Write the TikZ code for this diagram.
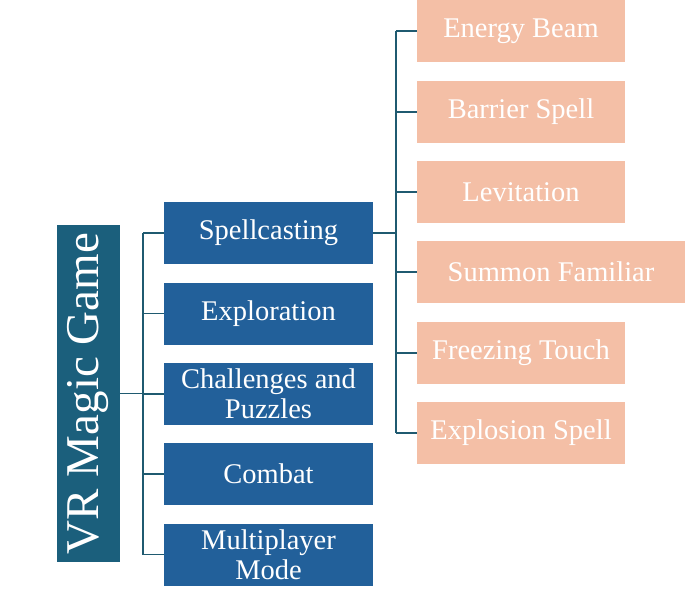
\documentclass[tikz,border=0pt]{standalone}
\usepackage{fontspec}
\setmainfont{Liberation Serif}
\definecolor{rootc}{HTML}{1B5F7C}
\definecolor{lone}{HTML}{22609A}
\definecolor{ltwo}{HTML}{F4BFA6}
\definecolor{linec}{HTML}{1F5A70}
\begin{document}
\begin{tikzpicture}[x=1pt,y=-1pt,
  rootbox/.style={fill=rootc,text=white,minimum width=337pt,minimum height=63pt,rotate=90,font=\fontsize{47}{50}\selectfont,inner sep=0pt},
  onebox/.style={fill=lone,text=white,minimum width=209pt,minimum height=62pt,font=\fontsize{28.5}{30}\selectfont,align=center,inner sep=0pt},
  twobox/.style={fill=ltwo,text=white,minimum width=208pt,minimum height=62pt,font=\fontsize{28.5}{30}\selectfont,align=center,inner sep=0pt},
  conn/.style={draw=linec,line width=1.5pt}]
\useasboundingbox (0,0) rectangle (685,595);
\node[rootbox] (root) at (88.5,393.5) {VR Magic Game};
\node[onebox] (s) at (268.5,233) {Spellcasting};
\node[onebox] (e) at (268.5,313.5) {Exploration};
\node[onebox] (c) at (268.5,394) {Challenges and\\Puzzles};
\node[onebox] (k) at (268.5,474) {Combat};
\node[onebox] (m) at (268.5,554.5) {Multiplayer\\Mode};
\node[twobox] (a1) at (521,31) {Energy Beam};
\node[twobox] (a2) at (521,112) {Barrier Spell};
\node[twobox] (a3) at (521,192) {Levitation};
\node[twobox,minimum width=268pt] (a4) at (551,272) {Summon Familiar};
\node[twobox] (a5) at (521,353) {Freezing Touch};
\node[twobox] (a6) at (521,433) {Explosion Spell};
\coordinate (j1) at (143,393.5);
\draw[conn] (root.south) -- (j1);
\foreach \n in {s,e,c,k,m} \draw[conn] (j1 |- \n.west) -- (\n.west);
\draw[conn] (j1 |- s.west) -- (j1 |- m.west);
\coordinate (j2) at (396,233);
\draw[conn] (s.east) -- (j2);
\foreach \n in {a1,a2,a3,a4,a5,a6} \draw[conn] (j2 |- \n.west) -- (\n.west);
\draw[conn] (j2 |- a1.west) -- (j2 |- a6.west);
\end{tikzpicture}
\end{document}
